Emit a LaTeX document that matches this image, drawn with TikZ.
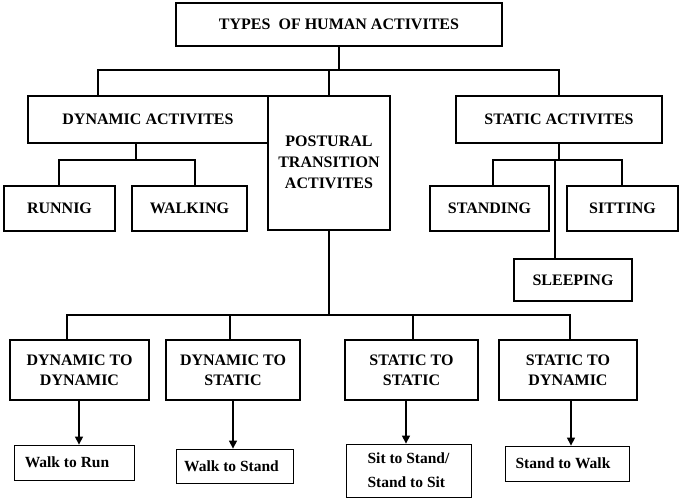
\documentclass[tikz,border=0pt]{standalone}
\usepackage{fontspec}
\setmainfont{Liberation Serif}
\usetikzlibrary{arrows.meta}
\begin{document}
\begin{tikzpicture}[x=1pt,y=-1pt,
 bx/.style={draw,line width=2.6pt,align=center,font=\bfseries\fontsize{16}{20}\selectfont},
 lf/.style={draw,line width=0.8pt,align=left,font=\bfseries\fontsize{15.5}{24}\selectfont},
 ln/.style={line width=1.2pt},
 ar/.style={line width=1.2pt,-{Triangle[length=8pt,width=8pt]}}]
\useasboundingbox (0,0) rectangle (685,500);
\def\bb#1#2#3#4#5#6#7{\node[#7,minimum width=#4-#2,minimum height=#5-#3,inner sep=0pt] (#1) at ({(#2+#4)/2},{(#3+#5)/2}) {#6};}
\bb{t}{176}{3}{502}{46}{TYPES\ \ OF HUMAN ACTIVITES}{bx}
\bb{d}{28}{96}{268}{143}{DYNAMIC ACTIVITES}{bx}
\bb{s}{456}{96}{662}{143}{STATIC ACTIVITES}{bx}
\node[bx,minimum width=122,minimum height=134,inner sep=0pt] (p) at (329,163) {};
\node[font=\bfseries\fontsize{16}{21}\selectfont,align=center,anchor=north] at (329,132) {POSTURAL\\TRANSITION\\ACTIVITES};
\bb{r}{4}{186}{115}{231}{RUNNIG}{bx}
\bb{w}{132}{186}{247}{231}{WALKING}{bx}
\bb{st}{430}{186}{549}{231}{STANDING}{bx}
\bb{si}{567}{186}{678}{231}{SITTING}{bx}
\bb{sl}{514}{259}{632}{301}{SLEEPING}{bx}
\bb{b1}{10}{340}{149}{400}{DYNAMIC TO\\DYNAMIC}{bx}
\bb{b2}{166}{340}{300}{400}{DYNAMIC TO\\STATIC}{bx}
\bb{b3}{345}{340}{478}{400}{STATIC TO\\STATIC}{bx}
\bb{b4}{499}{340}{637}{400}{STATIC TO\\DYNAMIC}{bx}
\bb{l1}{14}{445}{134}{480}{Walk to Run\hspace{14pt}}{lf}
\bb{l2}{176}{449}{293}{483}{Walk to Stand\hspace{6pt}}{lf}
\bb{l3}{346}{444}{471}{497}{Sit to Stand/\hspace{10pt}\\Stand to Sit}{lf}
\bb{l4}{505}{446}{629}{481}{Stand to Walk\hspace{8pt}}{lf}
\draw[ln] (t.south) -- (339,70);
\draw[ln] (d.north -| 98,0) -- (98,70) -- (559,70) -- (s.north -| 559,0);
\draw[ln] (p.north -| 329,0) -- (329,70);
\draw[ln] (d.south -| 136,0) -- (136,160);
\draw[ln] (r.north -| 59,0) -- (59,160) -- (195,160) -- (w.north -| 195,0);
\draw[ln] (s.south -| 559,0) -- (559,160);
\draw[ln] (st.north -| 493,0) -- (493,160) -- (622,160) -- (si.north -| 622,0);
\draw[ln] (555,160) -- (sl.north -| 555,0);
\draw[ln] (p.south -| 329,0) -- (329,315);
\draw[ln] (b1.north -| 67,0) -- (67,315) -- (570,315) -- (b4.north -| 570,0);
\draw[ln] (230,315) -- (b2.north -| 230,0);
\draw[ln] (413,315) -- (b3.north -| 413,0);
\draw[ar] (b1.south -| 79,0) -- (l1.north -| 79,0);
\draw[ar] (b2.south -| 233,0) -- (l2.north -| 233,0);
\draw[ar] (b3.south -| 406,0) -- (l3.north -| 406,0);
\draw[ar] (b4.south -| 571,0) -- (l4.north -| 571,0);
\end{tikzpicture}
\end{document}
